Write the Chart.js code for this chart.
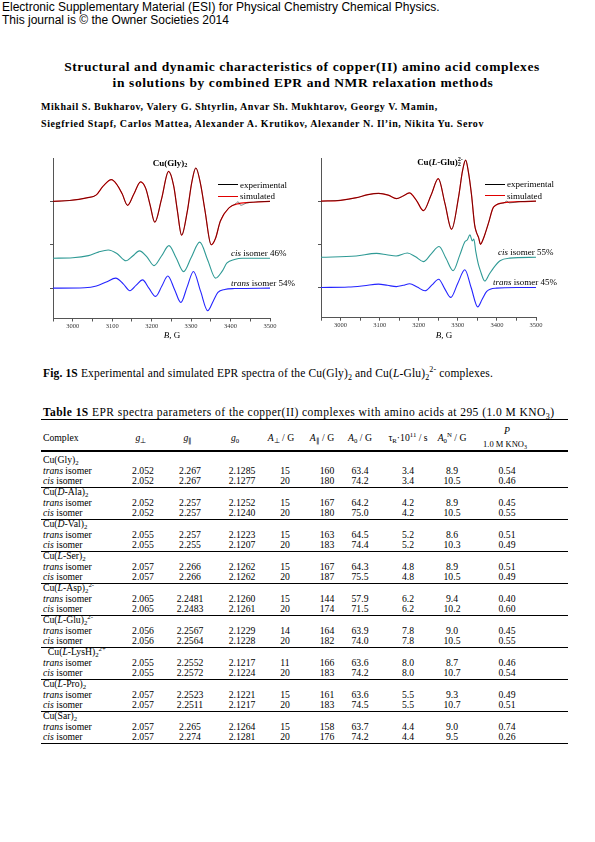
<!DOCTYPE html>
<html>
<head>
<meta charset="utf-8">
<script src="https://cdn.jsdelivr.net/npm/chart.js@4.4.1/dist/chart.umd.min.js"></script>
<style>
  body { margin: 0; background: #fff; }
  #page { position: relative; width: 595px; height: 842px; overflow: hidden; background: #fff;
          font-family: "Liberation Serif", "Times New Roman", serif; color: #000; }
  .l, .c { position: absolute; white-space: nowrap; line-height: 1; }
  .l { transform: translateY(-50%); }
  .c { transform: translate(-50%, -50%); }
  .sans { font-family: "Liberation Sans", Arial, sans-serif; }
  .rule { position: absolute; background: #000; height: 1px; }
  .key { position: absolute; height: 1px; width: 20px; }
  sub, sup { font-size: 70%; line-height: 0; }
  sub { vertical-align: -0.3em; }
  sup { vertical-align: 0.6em; }
  .chart { position: absolute; }
</style>
</head>
<body>
<div id="page">

  <!-- journal header -->
  <div class="l sans" style="left:2px;top:7px;font-size:12px">Electronic Supplementary Material (ESI) for Physical Chemistry Chemical Physics.</div>
  <div class="l sans" style="left:2px;top:19.5px;font-size:12px">This journal is © the Owner Societies 2014</div>

  <!-- title and authors -->
  <div class="c" style="left:302px;top:67px;font-size:13.5px;font-weight:bold;letter-spacing:0.6px">Structural and dynamic characteristics of copper(II) amino acid complexes</div>
  <div class="c" style="left:303px;top:83px;font-size:13.5px;font-weight:bold;letter-spacing:0.6px">in solutions by combined EPR and NMR relaxation methods</div>
  <div class="l" style="left:41px;top:107px;font-size:10px;font-weight:bold;letter-spacing:0.55px">Mikhail S. Bukharov, Valery G. Shtyrlin, Anvar Sh. Mukhtarov, Georgy V. Mamin,</div>
  <div class="l" style="left:41px;top:123.5px;font-size:10px;font-weight:bold;letter-spacing:0.6px">Siegfried Stapf, Carlos Mattea, Alexander A. Krutikov, Alexander N. Il’in, Nikita Yu. Serov</div>

  <!-- charts -->
  <div class="chart" style="left:20px;top:150px"><canvas id="glyChart" width="280" height="195"></canvas></div>
  <div class="chart" style="left:290px;top:150px"><canvas id="gluChart" width="270" height="195"></canvas></div>

  <!-- left chart annotations -->
  <div class="c" style="left:170px;top:163px;font-size:9px;font-weight:bold">Cu(Gly)<sub>2</sub></div>
  <div class="key" style="left:218px;top:184px;background:#000"></div>
  <div class="key" style="left:218px;top:196px;background:#e00000"></div>
  <div class="l" style="left:240px;top:184.5px;font-size:9px">experimental</div>
  <div class="l" style="left:240px;top:196px;font-size:9px">simulated</div>
  <div class="l" style="left:231px;top:253px;font-size:9px"><i>cis</i> isomer 46%</div>
  <div class="l" style="left:231px;top:283px;font-size:9px"><i>trans</i> isomer 54%</div>
  <div class="c" style="left:172px;top:335px;font-size:9px"><i>B</i>, G</div>

  <!-- right chart annotations -->
  <div class="c" style="left:440px;top:162px;font-size:9px;font-weight:bold">Cu(<i>L</i>-Glu)<sub>2</sub><sup style="margin-left:-3.2px">2-</sup></div>
  <div class="key" style="left:485px;top:183.5px;background:#000"></div>
  <div class="key" style="left:485px;top:195px;background:#e00000"></div>
  <div class="l" style="left:507px;top:184px;font-size:9px">experimental</div>
  <div class="l" style="left:507px;top:195.5px;font-size:9px">simulated</div>
  <div class="l" style="left:498px;top:252px;font-size:9px"><i>cis</i> isomer 55%</div>
  <div class="l" style="left:493px;top:281.5px;font-size:9px"><i>trans</i> isomer 45%</div>
  <div class="c" style="left:444px;top:335px;font-size:9px"><i>B</i>, G</div>

  <!-- figure caption -->
  <div class="l" style="left:43px;top:374px;font-size:11.5px;letter-spacing:0.15px"><b>Fig. 1S</b> Experimental and simulated EPR spectra of the Cu(Gly)<sub>2</sub> and Cu(<i>L</i>-Glu)<sub>2</sub><sup>2-</sup> complexes.</div>

  <!-- table title -->
  <div class="l" style="left:43px;top:413px;font-size:11.5px;letter-spacing:0.45px"><b>Table 1S</b> EPR spectra parameters of the copper(II) complexes with amino acids at 295 (1.0 M KNO<sub>3</sub>)</div>
  <div class="rule" style="left:41px;top:419px;width:527px"></div>
  <div id="table"></div>
</div>

<script>
// Cu(Gly)2 spectra (field in G, intensity with trace offset)
const glyExpField = [2950, 2992, 3035, 3060, 3077, 3098, 3111, 3125, 3139, 3155, 3172, 3185, 3196, 3208, 3225, 3243, 3256, 3265, 3276, 3290, 3302, 3312, 3324, 3335, 3351, 3362, 3374, 3396, 3412, 3419, 3426, 3440, 3470, 3500];
const glyExp = [2.0, 2.02, 2.08, 2.15, 2.35, 2.5, 2.4, 2.18, 1.91, 2.17, 2.45, 2.3, 1.92, 1.52, 2.05, 2.69, 2.35, 1.8, 1.22, 1.75, 2.45, 2.77, 2.4, 1.8, 1.0, 1.15, 1.54, 1.85, 1.94, 1.99, 1.91, 1.96, 1.99, 2.0];
const glySimField = [2950, 2992, 3035, 3060, 3077, 3098, 3111, 3125, 3139, 3155, 3172, 3185, 3196, 3208, 3225, 3243, 3256, 3265, 3276, 3290, 3302, 3312, 3324, 3335, 3351, 3362, 3374, 3396, 3421, 3459, 3500];
const glySim = [2.0, 2.02, 2.08, 2.15, 2.35, 2.5, 2.4, 2.18, 1.91, 2.17, 2.45, 2.3, 1.92, 1.52, 2.05, 2.69, 2.35, 1.8, 1.22, 1.75, 2.45, 2.77, 2.4, 1.8, 1.0, 1.15, 1.54, 1.85, 1.95, 1.98, 2.0];
const glyCisField = [2950, 3000, 3040, 3065, 3090, 3112, 3135, 3152, 3169, 3188, 3206, 3225, 3244, 3262, 3281, 3300, 3322, 3342, 3362, 3378, 3391, 3410, 3430, 3500];
const glyCis = [0.69, 0.70, 0.75, 0.83, 0.88, 0.80, 0.63, 0.74, 0.86, 0.72, 0.52, 0.74, 0.98, 0.70, 0.38, 0.70, 1.06, 0.65, 0.23, 0.38, 0.58, 0.66, 0.69, 0.69];
const glyTransField = [2950, 3030, 3060, 3085, 3109, 3128, 3145, 3161, 3177, 3193, 3210, 3226, 3241, 3258, 3274, 3290, 3306, 3324, 3342, 3356, 3368, 3385, 3410, 3500];
const glyTrans = [0, 0.01, 0.05, 0.14, 0.23, 0.10, -0.06, 0.07, 0.19, 0.0, -0.19, 0.05, 0.28, -0.03, -0.33, 0.03, 0.385, -0.07, -0.52, -0.30, -0.10, -0.03, -0.01, 0];

// Cu(L-Glu)2 2- spectra
const gluExpField = [2950, 3000, 3041, 3070, 3097, 3122, 3143, 3160, 3176, 3194, 3212, 3232, 3250, 3267, 3284, 3302, 3312, 3320, 3327, 3335, 3343, 3348, 3353, 3358, 3364, 3370, 3378, 3392, 3418, 3425, 3432, 3460, 3500];
const gluExp = [2.0, 2.02, 2.08, 2.15, 2.18, 2.14, 2.06, 2.12, 2.19, 2.02, 1.78, 2.15, 2.52, 1.95, 1.35, 2.10, 2.70, 2.95, 2.68, 2.15, 1.45, 1.27, 1.16, 1.0, 1.10, 1.25, 1.48, 1.87, 1.96, 2.0, 1.96, 1.99, 2.0];
const gluSimField = [2950, 3000, 3041, 3070, 3097, 3122, 3143, 3160, 3176, 3194, 3212, 3232, 3250, 3267, 3284, 3302, 3312, 3320, 3327, 3335, 3343, 3348, 3353, 3358, 3364, 3370, 3378, 3392, 3425, 3460, 3500];
const gluSim = [2.0, 2.02, 2.08, 2.15, 2.18, 2.14, 2.06, 2.12, 2.19, 2.02, 1.78, 2.15, 2.52, 1.95, 1.35, 2.10, 2.70, 2.95, 2.68, 2.15, 1.45, 1.27, 1.16, 1.0, 1.10, 1.25, 1.48, 1.87, 1.97, 1.99, 2.0];
const gluCisField = [2950, 3040, 3092, 3118, 3142, 3171, 3192, 3212, 3232, 3252, 3270, 3288, 3305, 3318, 3324, 3331, 3337, 3341, 3346, 3352, 3358, 3369, 3380, 3391, 3408, 3433, 3500];
const gluCis = [0.70, 0.73, 0.79, 0.76, 0.73, 0.80, 0.71, 0.60, 0.78, 0.95, 0.67, 0.39, 0.75, 1.06, 1.10, 1.22, 1.08, 1.12, 0.83, 0.56, 0.38, 0.15, 0.30, 0.45, 0.62, 0.68, 0.70];
const gluTransField = [2950, 3020, 3060, 3097, 3120, 3143, 3160, 3177, 3196, 3216, 3234, 3251, 3266, 3282, 3300, 3318, 3334, 3351, 3362, 3374, 3399, 3450, 3500];
const gluTrans = [0, 0.01, 0.04, 0.077, 0.05, 0.02, 0.05, 0.085, 0.01, -0.077, 0.06, 0.19, -0.02, -0.23, 0.10, 0.41, 0.0, -0.45, -0.28, -0.09, -0.015, 0, 0];

// axis ticks (trace baselines)
const yTicks = [0, 1, 2];

// Table 1S
const complexes = ['Cu(Gly)<sub>2</sub>', 'Cu(<i>D</i>-Ala)<sub>2</sub>', 'Cu(<i>D</i>-Val)<sub>2</sub>', 'Cu(<i>L</i>-Ser)<sub>2</sub>',
  'Cu(<i>L</i>-Asp)<sub>2</sub><sup>2-</sup>', 'Cu(<i>L</i>-Glu)<sub>2</sub><sup>2-</sup>', '&nbsp;&nbsp;Cu(<i>L</i>-LysH)<sub>2</sub><sup>2+</sup>',
  'Cu(<i>L</i>-Pro)<sub>2</sub>', 'Cu(Sar)<sub>2</sub>'];
const transRows = [
  ['2.052', '2.267', '2.1285', '15', '160', '63.4', '3.4', '8.9', '0.54'],
  ['2.052', '2.257', '2.1252', '15', '167', '64.2', '4.2', '8.9', '0.45'],
  ['2.055', '2.257', '2.1223', '15', '163', '64.5', '5.2', '8.6', '0.51'],
  ['2.057', '2.266', '2.1262', '15', '167', '64.3', '4.8', '8.9', '0.51'],
  ['2.065', '2.2481', '2.1260', '15', '144', '57.9', '6.2', '9.4', '0.40'],
  ['2.056', '2.2567', '2.1229', '14', '164', '63.9', '7.8', '9.0', '0.45'],
  ['2.055', '2.2552', '2.1217', '11', '166', '63.6', '8.0', '8.7', '0.46'],
  ['2.057', '2.2523', '2.1221', '15', '161', '63.6', '5.5', '9.3', '0.49'],
  ['2.057', '2.265', '2.1264', '15', '158', '63.7', '4.4', '9.0', '0.74']];
const cisRows = [
  ['2.052', '2.267', '2.1277', '20', '180', '74.2', '3.4', '10.5', '0.46'],
  ['2.052', '2.257', '2.1240', '20', '180', '75.0', '4.2', '10.5', '0.55'],
  ['2.055', '2.255', '2.1207', '20', '183', '74.4', '5.2', '10.3', '0.49'],
  ['2.057', '2.266', '2.1262', '20', '187', '75.5', '4.8', '10.5', '0.49'],
  ['2.065', '2.2483', '2.1261', '20', '174', '71.5', '6.2', '10.2', '0.60'],
  ['2.056', '2.2564', '2.1228', '20', '182', '74.0', '7.8', '10.5', '0.55'],
  ['2.055', '2.2572', '2.1224', '20', '183', '74.2', '8.0', '10.7', '0.54'],
  ['2.057', '2.2511', '2.1217', '20', '183', '74.5', '5.5', '10.7', '0.51'],
  ['2.057', '2.274', '2.1281', '20', '176', '74.2', '4.4', '9.5', '0.26']];
const headers = ['<i>g</i><sub>⊥</sub>', '<i>g</i><sub>∥</sub>', '<i>g</i><sub>0</sub>', '<i>A</i><sub>⊥</sub> / G', '<i>A</i><sub>∥</sub> / G',
  '<i>A</i><sub>0</sub> / G', 'τ<sub>R</sub>·10<sup>11</sup> / s', '<i>A</i><sub>0</sub><sup>N</sup> / G', '<i>P</i>'];

// column centres of the table
const headerX = [141, 188, 235, 281, 322, 360, 408, 452, 507];
const colX = [143, 190, 242, 285, 327, 360, 408, 452, 507];

function buildTable() {
  const t = document.getElementById('table');
  const fs = 'font-size:9.7px';
  let html = `<div class="l" style="left:43px;top:438px;${fs}">Complex</div>`;
  headers.forEach((h, i) => {
    const y = i === headers.length - 1 ? 431 : 438;
    html += `<div class="c" style="left:${headerX[i]}px;top:${y}px;${fs}">${h}</div>`;
  });
  html += `<div class="c" style="left:505px;top:444px;font-size:8.5px">1.0 M KNO<sub>3</sub></div>`;
  html += `<div class="rule" style="left:41px;top:450px;width:527px;height:1.5px"></div>`;
  complexes.forEach((name, g) => {
    const y0 = 460 + g * 32;
    html += `<div class="l" style="left:43px;top:${y0}px;${fs}">${name}</div>`;
    [[transRows[g], '<i>trans</i> isomer', y0 + 10.5], [cisRows[g], '<i>cis</i> isomer', y0 + 21]].forEach(([row, label, y]) => {
      html += `<div class="l" style="left:43px;top:${y}px;${fs}">${label}</div>`;
      row.forEach((v, i) => {
        html += `<div class="c" style="left:${colX[i]}px;top:${y}px;${fs}">${v}</div>`;
      });
    });
    html += `<div class="rule" style="left:41px;top:${y0 + 26.5}px;width:527px"></div>`;
  });
  t.innerHTML = html;
}
buildTable();

// Build one EPR spectrum chart
function spectrumChart(id, series, pad, yWidth) {
  return new Chart(document.getElementById(id), {
    type: 'line',
    data: {
      datasets: series.map(s => ({
        data: s.x.map((x, i) => ({ x: x, y: s.y[i] })),
        borderColor: s.color,
        borderWidth: s.width,
        pointRadius: 0,
        fill: false,
        cubicInterpolationMode: 'monotone'
      }))
    },
    options: {
      responsive: false,
      animation: false,
      devicePixelRatio: 1,
      layout: { padding: pad },
      plugins: { legend: { display: false }, tooltip: { enabled: false } },
      scales: {
        x: {
          type: 'linear',
          min: 2950,
          max: 3500,
          afterFit: scale => { scale.height = 16; },
          ticks: {
            stepSize: 50,
            autoSkip: false,
            maxRotation: 0,
            padding: 1,
            color: '#333',
            font: { family: 'Liberation Serif', size: 6.5 },
            callback: v => (v % 100 === 0 ? String(v) : '')
          },
          grid: { drawOnChartArea: false, drawTicks: true, tickLength: 3, color: '#555' },
          border: { display: true, color: '#555', width: 1 }
        },
        y: {
          min: -0.7,
          max: 3,
          afterBuildTicks: scale => { scale.ticks = yTicks.map(v => ({ value: v })); },
          afterFit: scale => { scale.width = yWidth; },
          ticks: { display: false },
          grid: { drawOnChartArea: false, drawTicks: true, tickLength: 3, color: '#555' },
          border: { display: true, color: '#555', width: 1 }
        }
      }
    }
  });
}

spectrumChart('glyChart', [
  { x: glyTransField, y: glyTrans, color: '#2424ff', width: 1.1 },
  { x: glyCisField, y: glyCis, color: '#2f9a95', width: 1.1 },
  { x: glyExpField, y: glyExp, color: '#000000', width: 0.5 },
  { x: glySimField, y: glySim, color: '#ee0000', width: 1.2 }
], { left: 0, right: 30, top: 8, bottom: 10.5 }, 33);

spectrumChart('gluChart', [
  { x: gluTransField, y: gluTrans, color: '#2424ff', width: 1.1 },
  { x: gluCisField, y: gluCis, color: '#2f9a95', width: 1.1 },
  { x: gluExpField, y: gluExp, color: '#000000', width: 0.5 },
  { x: gluSimField, y: gluSim, color: '#ee0000', width: 1.2 }
], { left: 0, right: 24, top: 8, bottom: 11.3 }, 31);
</script>
</body>
</html>
